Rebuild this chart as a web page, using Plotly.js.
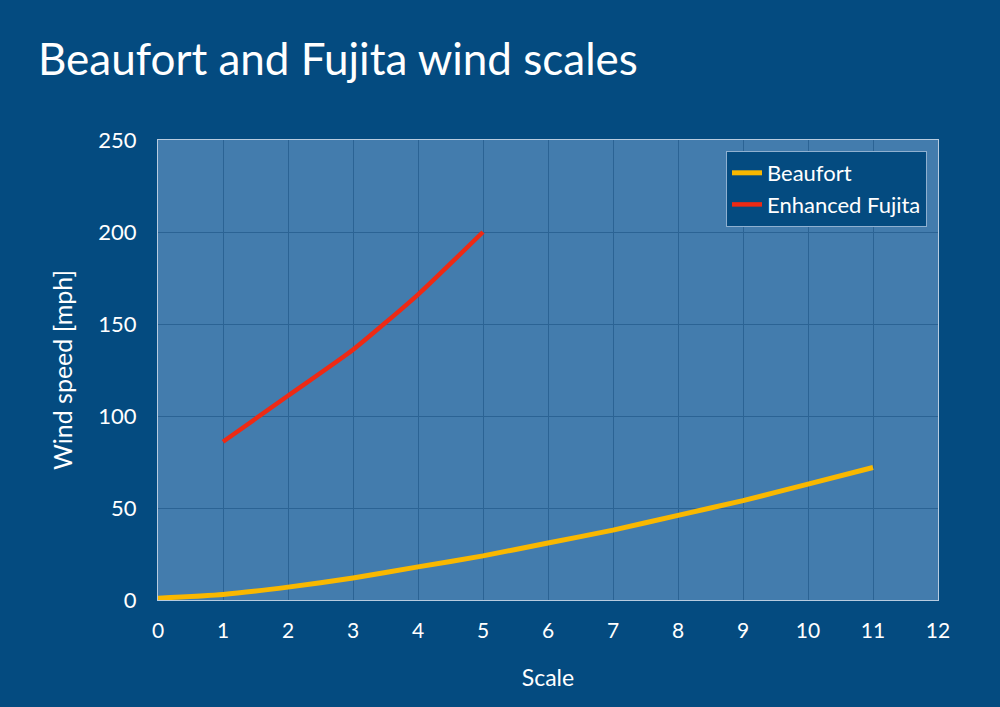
<!DOCTYPE html>
<html><head><meta charset="utf-8">
<script src="https://cdn.plot.ly/plotly-3.0.1.min.js"></script>
<style>html,body{margin:0;padding:0;background:#044b80;}#c{width:1000px;height:707px;}</style>
</head><body><div id="c"></div>
<script>
const beaufortScale = [0,1,2,3,4,5,6,7,8,9,10,11];
const beaufortMph = [1,3,7,12,18,24,31,38,46,54,63,72];
const fujitaScale = [1,2,3,4,5];
const fujitaMph = [86,111,136,166,200];
const xTicks = [0,1,2,3,4,5,6,7,8,9,10,11,12];
const yTicks = [0,50,100,150,200,250];

const font = "Lato, 'Open Sans', sans-serif";
const traces = [
  {x: beaufortScale, y: beaufortMph, name: 'Beaufort', mode: 'lines',
   line: {color: '#f9b800', width: 5, shape: 'spline', smoothing: 0.6}},
  {x: fujitaScale, y: fujitaMph, name: 'Enhanced Fujita', mode: 'lines',
   line: {color: '#ee2a14', width: 4.5, shape: 'spline', smoothing: 0.5}}
];
const layout = {
  width: 1000, height: 707,
  paper_bgcolor: '#044b80', plot_bgcolor: '#437cad',
  margin: {l: 158, r: 62, t: 140, b: 107},
  font: {family: font, color: '#ffffff', size: 21},
  title: {text: 'Beaufort and Fujita wind scales', x: 38/1000, xanchor: 'left', xref: 'container',
          y: 1 - 60/707, yanchor: 'middle', yref: 'container',
          font: {size: 44, color: '#ffffff', family: font}},
  xaxis: {range: [0, 12], tickvals: xTicks, ticks: '', ticklabelstandoff: 12,
          showgrid: true, gridcolor: '#2b6394', gridwidth: 1, zeroline: false,
          showline: true, linecolor: '#b8cce0', linewidth: 1, mirror: true,
          tickfont: {size: 21, color: '#ffffff'},
          title: {text: 'Scale', font: {size: 23, color: '#ffffff'}, standoff: 28}},
  yaxis: {range: [0, 250], tickvals: yTicks, ticks: '', ticklabelstandoff: 16,
          showgrid: true, gridcolor: '#2b6394', gridwidth: 1, zeroline: false,
          showline: true, linecolor: '#b8cce0', linewidth: 1, mirror: true,
          tickfont: {size: 22, color: '#ffffff'},
          title: {text: 'Wind speed [mph]', font: {size: 25, color: '#ffffff'}, standoff: 18}},
  legend: {x: (927-158)/780, xanchor: 'right', y: (600-151)/460, yanchor: 'top',
           bgcolor: '#044b80', bordercolor: '#8fb0d0', borderwidth: 1,
           font: {size: 22, color: '#ffffff'}, tracegroupgap: 2},
  showlegend: true
};
Plotly.newPlot('c', traces, layout, {displayModeBar: false, staticPlot: true});
</script></body></html>
